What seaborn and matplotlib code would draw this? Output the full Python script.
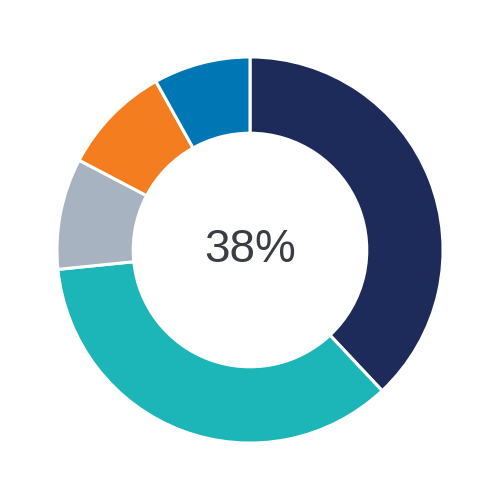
import matplotlib
matplotlib.use("Agg")
import matplotlib.pyplot as plt
import seaborn as sns

# 値
labels = ["A", "B", "C", "D", "E"]
values = [38.0, 35.4, 9.3, 9.2, 8.1]
colors = ["#1d2b5b", "#1cb5b8", "#a8b3c1", "#f47d20", "#0077b5"]
center_text = "38%"

sns.set_theme(style="white")
plt.rcParams["font.family"] = ["Liberation Sans", "DejaVu Sans"]

fig = plt.figure(figsize=(5, 5), dpi=100)
ax = fig.add_axes([0, 0, 1, 1])

ax.pie(values, colors=colors, startangle=90, counterclock=False, radius=1.0,
       wedgeprops=dict(width=0.395, edgecolor="white", linewidth=2.2))
ax.text(0, 0, center_text, ha="center", va="center", fontsize=33, color="#3a3e44")

ax.set_xlim(-1.295, 1.295)
ax.set_ylim(-1.295, 1.295)
ax.set_aspect("equal")
ax.axis("off")

fig.savefig("out.png", dpi=100, facecolor="white")
plt.close(fig)
